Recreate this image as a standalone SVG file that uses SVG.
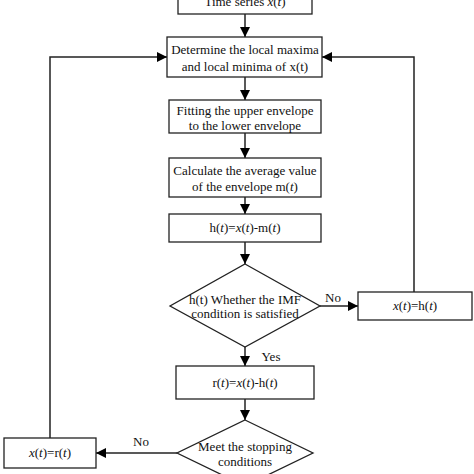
<svg xmlns="http://www.w3.org/2000/svg" width="474" height="474" viewBox="0 0 474 474">
<defs>
<marker id="ah" viewBox="0 0 10 10" refX="10" refY="5" markerWidth="10" markerHeight="10" markerUnits="userSpaceOnUse" orient="auto">
<path d="M0,0 L10,5 L0,10 Z" fill="#000"/>
</marker>
<style>
.box{fill:#fff;stroke:#222;stroke-width:1.3}
.t{font-family:"Liberation Serif","Times New Roman",serif;font-size:13px;fill:#111;text-anchor:middle}
.ln{fill:none;stroke:#222;stroke-width:1.5}
</style>
</defs>
<rect width="474" height="474" fill="#fff"/>
<g id="connectors">
<line class="ln" x1="245" y1="14" x2="245" y2="37" marker-end="url(#ah)"/>
<line class="ln" x1="245" y1="77" x2="245" y2="100" marker-end="url(#ah)"/>
<line class="ln" x1="245" y1="133" x2="245" y2="158" marker-end="url(#ah)"/>
<line class="ln" x1="245" y1="197" x2="245" y2="214" marker-end="url(#ah)"/>
<line class="ln" x1="245" y1="242" x2="245" y2="264" marker-end="url(#ah)"/>
<line class="ln" x1="320" y1="306" x2="358" y2="306" marker-end="url(#ah)"/>
<polyline class="ln" points="414,292 414,57 322,57" marker-end="url(#ah)"/>
<line class="ln" x1="245" y1="347" x2="245" y2="366" marker-end="url(#ah)"/>
<line class="ln" x1="245" y1="399" x2="245" y2="420" marker-end="url(#ah)"/>
<line class="ln" x1="177" y1="453" x2="96" y2="453" marker-end="url(#ah)"/>
<polyline class="ln" points="50,438 50,57 167,57" marker-end="url(#ah)"/>
<text class="t" x="333" y="302">No</text>
<text class="t" x="271" y="361">Yes</text>
<text class="t" x="141" y="446">No</text>
</g>
<g id="start">
<rect class="box" x="178" y="-20" width="134" height="34"/>
<text class="t" x="245" y="6">Time series <tspan font-style="italic">x</tspan>(<tspan font-style="italic">t</tspan>)</text>
</g>
<g id="extrema">
<rect class="box" x="167" y="37" width="155" height="40"/>
<text class="t" x="245" y="54">Determine the local maxima</text>
<text class="t" x="245" y="71">and local minima of x(t)</text>
</g>
<g id="envelope">
<rect class="box" x="169" y="100" width="152" height="33"/>
<text class="t" x="245" y="115">Fitting the upper envelope</text>
<text class="t" x="245" y="130">to the lower envelope</text>
</g>
<g id="average">
<rect class="box" x="169" y="158" width="152" height="39"/>
<text class="t" x="245" y="175">Calculate the average value</text>
<text class="t" x="245" y="191">of the envelope m(<tspan font-style="italic">t</tspan>)</text>
</g>
<g id="hcalc">
<rect class="box" x="169" y="214" width="152" height="28"/>
<text class="t" x="245" y="232">h(<tspan font-style="italic">t</tspan>)=<tspan font-style="italic">x</tspan>(<tspan font-style="italic">t</tspan>)-m(<tspan font-style="italic">t</tspan>)</text>
</g>
<g id="imfcheck">
<polygon class="box" points="245,264 320,306 245,347 170,306"/>
<text class="t" x="245" y="304">h(t) Whether the IMF</text>
<text class="t" x="245" y="318">condition is satisfied</text>
</g>
<g id="xh">
<rect class="box" x="358" y="292" width="114" height="28"/>
<text class="t" x="415" y="310"><tspan font-style="italic">x</tspan>(<tspan font-style="italic">t</tspan>)=h(<tspan font-style="italic">t</tspan>)</text>
</g>
<g id="rcalc">
<rect class="box" x="176" y="366" width="138" height="33"/>
<text class="t" x="245" y="387">r(<tspan font-style="italic">t</tspan>)=<tspan font-style="italic">x</tspan>(<tspan font-style="italic">t</tspan>)-h(<tspan font-style="italic">t</tspan>)</text>
</g>
<g id="stopcheck">
<polygon class="box" points="245,420 313,453 245,486 177,453"/>
<text class="t" x="245" y="451">Meet the stopping</text>
<text class="t" x="245" y="466">conditions</text>
</g>
<g id="xr">
<rect class="box" x="4" y="438" width="92" height="30"/>
<text class="t" x="50" y="457"><tspan font-style="italic">x</tspan>(<tspan font-style="italic">t</tspan>)=r(<tspan font-style="italic">t</tspan>)</text>
</g>
</svg>
